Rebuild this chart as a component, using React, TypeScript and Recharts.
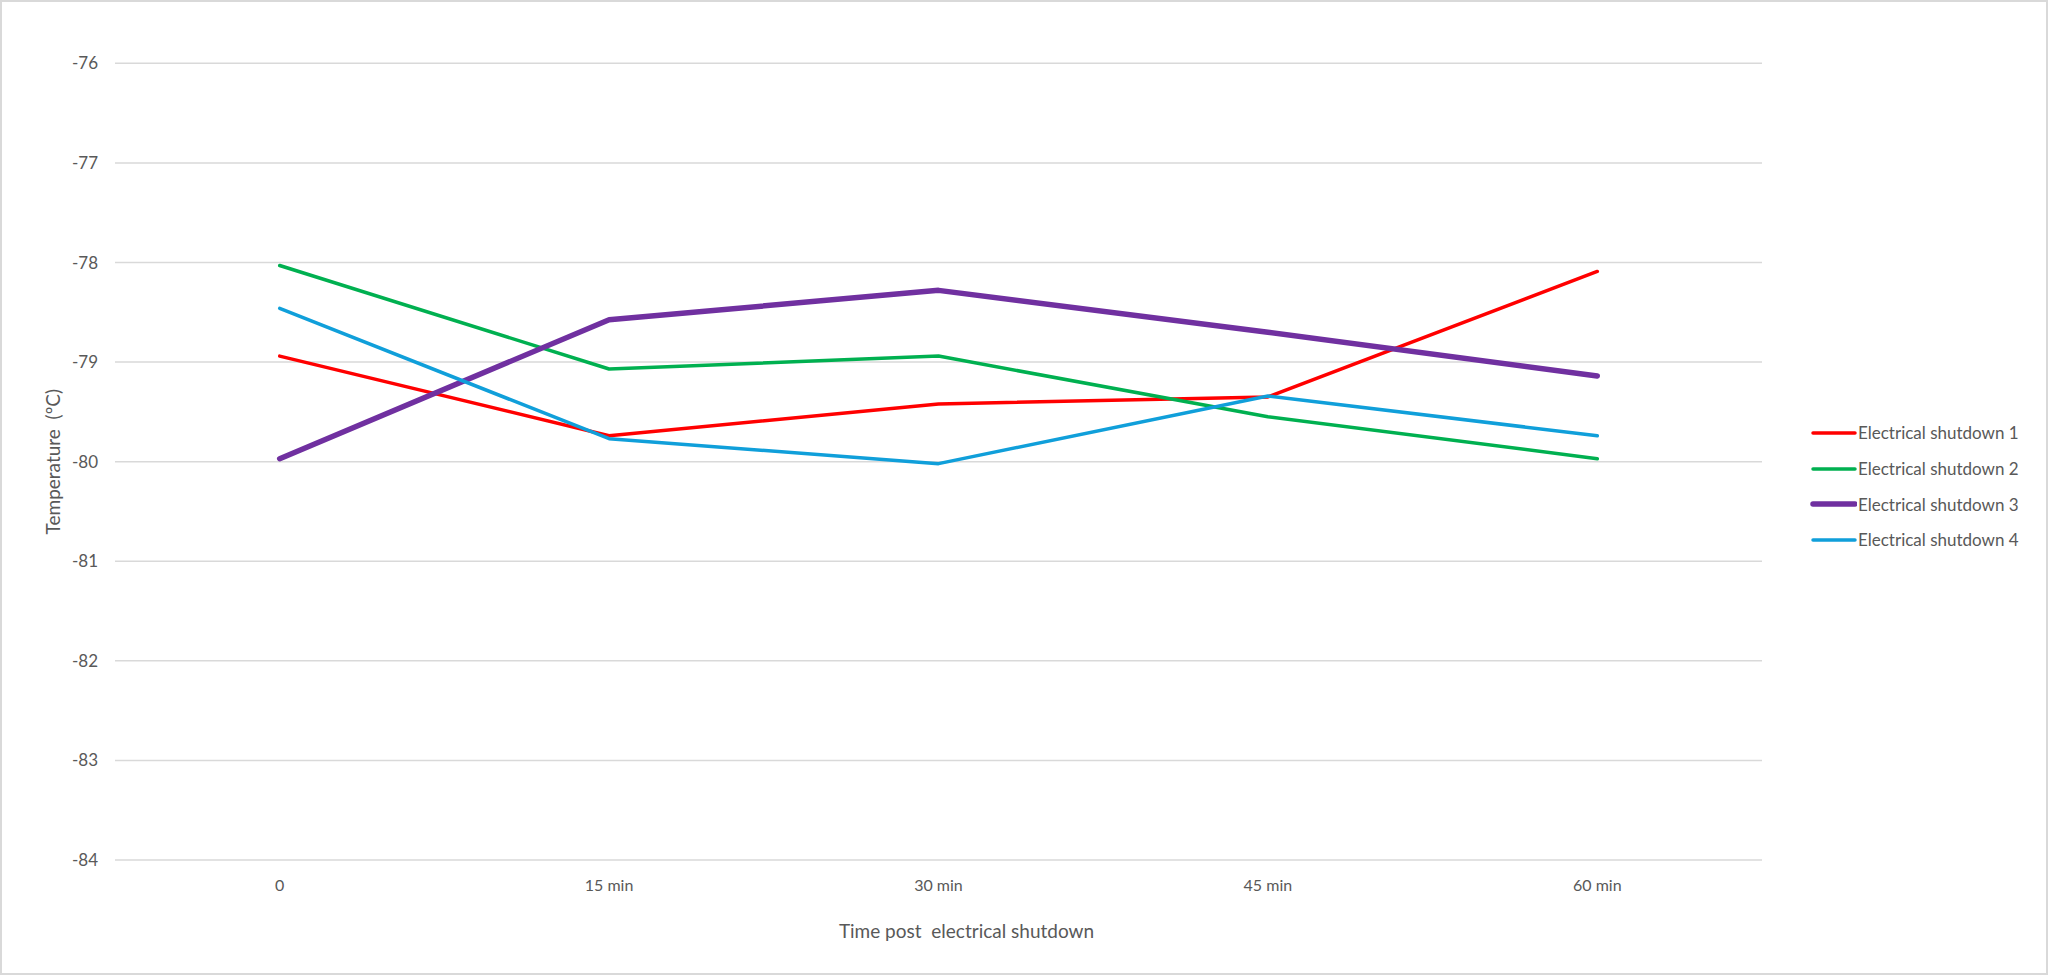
import { LineChart, Line, XAxis, YAxis, CartesianGrid, Legend } from 'recharts';

const times = ['0', '15 min', '30 min', '45 min', '60 min'];
const shutdown1 = [-78.94, -79.74, -79.42, -79.35, -78.09];
const shutdown2 = [-78.03, -79.07, -78.94, -79.55, -79.97];
const shutdown3 = [-79.97, -78.575, -78.28, -78.7, -79.14];
const shutdown4 = [-78.46, -79.77, -80.02, -79.34, -79.74];
const yTicks = [-84, -83, -82, -81, -80, -79, -78, -77, -76];

const seriesNames = ['Electrical shutdown 1', 'Electrical shutdown 2', 'Electrical shutdown 3', 'Electrical shutdown 4'];
const seriesColors = ['#FF0000', '#00B050', '#7030A0', '#109FDA'];
const seriesWidths = [3.5, 3.5, 5.5, 3.5];

const data = times.map((time, i) => ({
  time,
  s1: shutdown1[i],
  s2: shutdown2[i],
  s3: shutdown3[i],
  s4: shutdown4[i],
}));

const FONT = 'Lato, "Open Sans", sans-serif';
const TEXT = '#595959';

const LegendBox = ({ payload }: { payload?: { value: string; color: string }[] }) => (
  <div style={{ fontFamily: FONT, fontSize: 17, color: TEXT }}>
    {(payload || []).map((entry, i) => (
      <div key={entry.value} style={{ display: 'flex', alignItems: 'center', height: 35.7 }}>
        <svg width={48} height={10}>
          <line x1={4} x2={46} y1={5} y2={5} stroke={entry.color} strokeWidth={seriesWidths[i]} strokeLinecap="round" />
        </svg>
        <span style={{ marginLeft: 1 }}>{entry.value}</span>
      </div>
    ))}
  </div>
);

const YTitle = ({ viewBox }: any) => {
  const x = viewBox.x + 53;
  const y = viewBox.y + viewBox.height / 2;
  return (
    <text x={x} y={y} transform={`rotate(-90, ${x}, ${y})`} textAnchor="middle" dominantBaseline="central"
      fill={TEXT} fontSize={19} fontFamily={FONT} style={{ whiteSpace: 'pre' }}>
      Temperature  (ºC)
    </text>
  );
};

const XTitle = ({ viewBox }: any) => (
  <text x={viewBox.x + viewBox.width / 2 + 28} y={viewBox.y + 70} textAnchor="middle" dominantBaseline="central"
    fill={TEXT} fontSize={19} fontFamily={FONT} style={{ whiteSpace: 'pre' }}>
    Time post  electrical shutdown
  </text>
);

export default function App() {
  return (
    <div style={{ position: 'relative', width: 2048, height: 975, background: '#fff' }}>
      <style>{'body{margin:0}'}</style>
      <LineChart width={2048} height={975} data={data} margin={{ top: 63.3, right: 286, bottom: 0, left: 0 }}>
        <CartesianGrid vertical={false} stroke="#d9d9d9" strokeWidth={1.5} />
        <XAxis
          dataKey="time"
          height={115}
          padding={{ left: 164.7, right: 164.7 }}
          axisLine={false}
          tickLine={false}
          tickMargin={14}
          tick={{ fill: TEXT, fontSize: 16, fontFamily: FONT }}
          label={<XTitle />}
        />
        <YAxis
          width={115}
          domain={[-84, -76]}
          ticks={yTicks}
          interval={0}
          axisLine={false}
          tickLine={false}
          tickMargin={11}
          tick={{ fill: TEXT, fontSize: 17, fontFamily: FONT }}
          label={<YTitle />}
        />
        <Legend
          layout="horizontal"
          align="center"
          verticalAlign="middle"
          content={<LegendBox />}
          wrapperStyle={{ left: 1809, top: 415, width: 'auto' }}
        />
        {['s1', 's2', 's3', 's4'].map((key, i) => (
          <Line
            key={key}
            type="linear"
            dataKey={key}
            name={seriesNames[i]}
            stroke={seriesColors[i]}
            strokeWidth={seriesWidths[i]}
            strokeLinecap="round"
            strokeLinejoin="round"
            dot={false}
            activeDot={false}
            isAnimationActive={false}
          />
        ))}
      </LineChart>
      <div style={{ position: 'absolute', inset: 0, border: '2px solid #d9d9d9', pointerEvents: 'none' }} />
    </div>
  );
}
